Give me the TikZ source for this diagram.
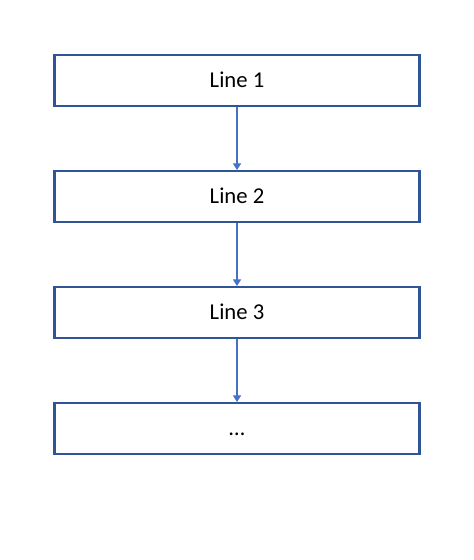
\documentclass[tikz,border=0pt]{standalone}
\usepackage{fontspec}
\setmainfont{Carlito}
\usetikzlibrary{arrows.meta}
\usetikzlibrary{positioning}
\definecolor{boxblue}{HTML}{2F5597}
\definecolor{arrowblue}{HTML}{4472C4}
\tikzset{
  linebox/.style={draw=boxblue, line width=1.8pt, fill=white,
    minimum width=274pt, minimum height=38pt, text height=11pt, text depth=0pt,
    font=\fontsize{17}{20}\selectfont},
  flow/.style={draw=arrowblue, line width=1.6pt, -{Triangle[length=5pt,width=6pt]}}
}
\begin{document}
\begin{tikzpicture}[node distance=47.2pt]
    \useasboundingbox (0,0) rectangle (355.5pt,-420pt);
    \node [linebox] (l1) at (177.75pt,-60.4pt) {Line 1};
    \node [linebox, below=of l1] (l2) {Line 2};
    \node [linebox, below=of l2] (l3) {Line 3};
    \node [linebox, below=of l3] (l4) {\dots};

    \draw [flow] (l1) -- (l2);
    \draw [flow] (l2) -- (l3);
    \draw [flow] (l3) -- (l4);
\end{tikzpicture}
\end{document}
